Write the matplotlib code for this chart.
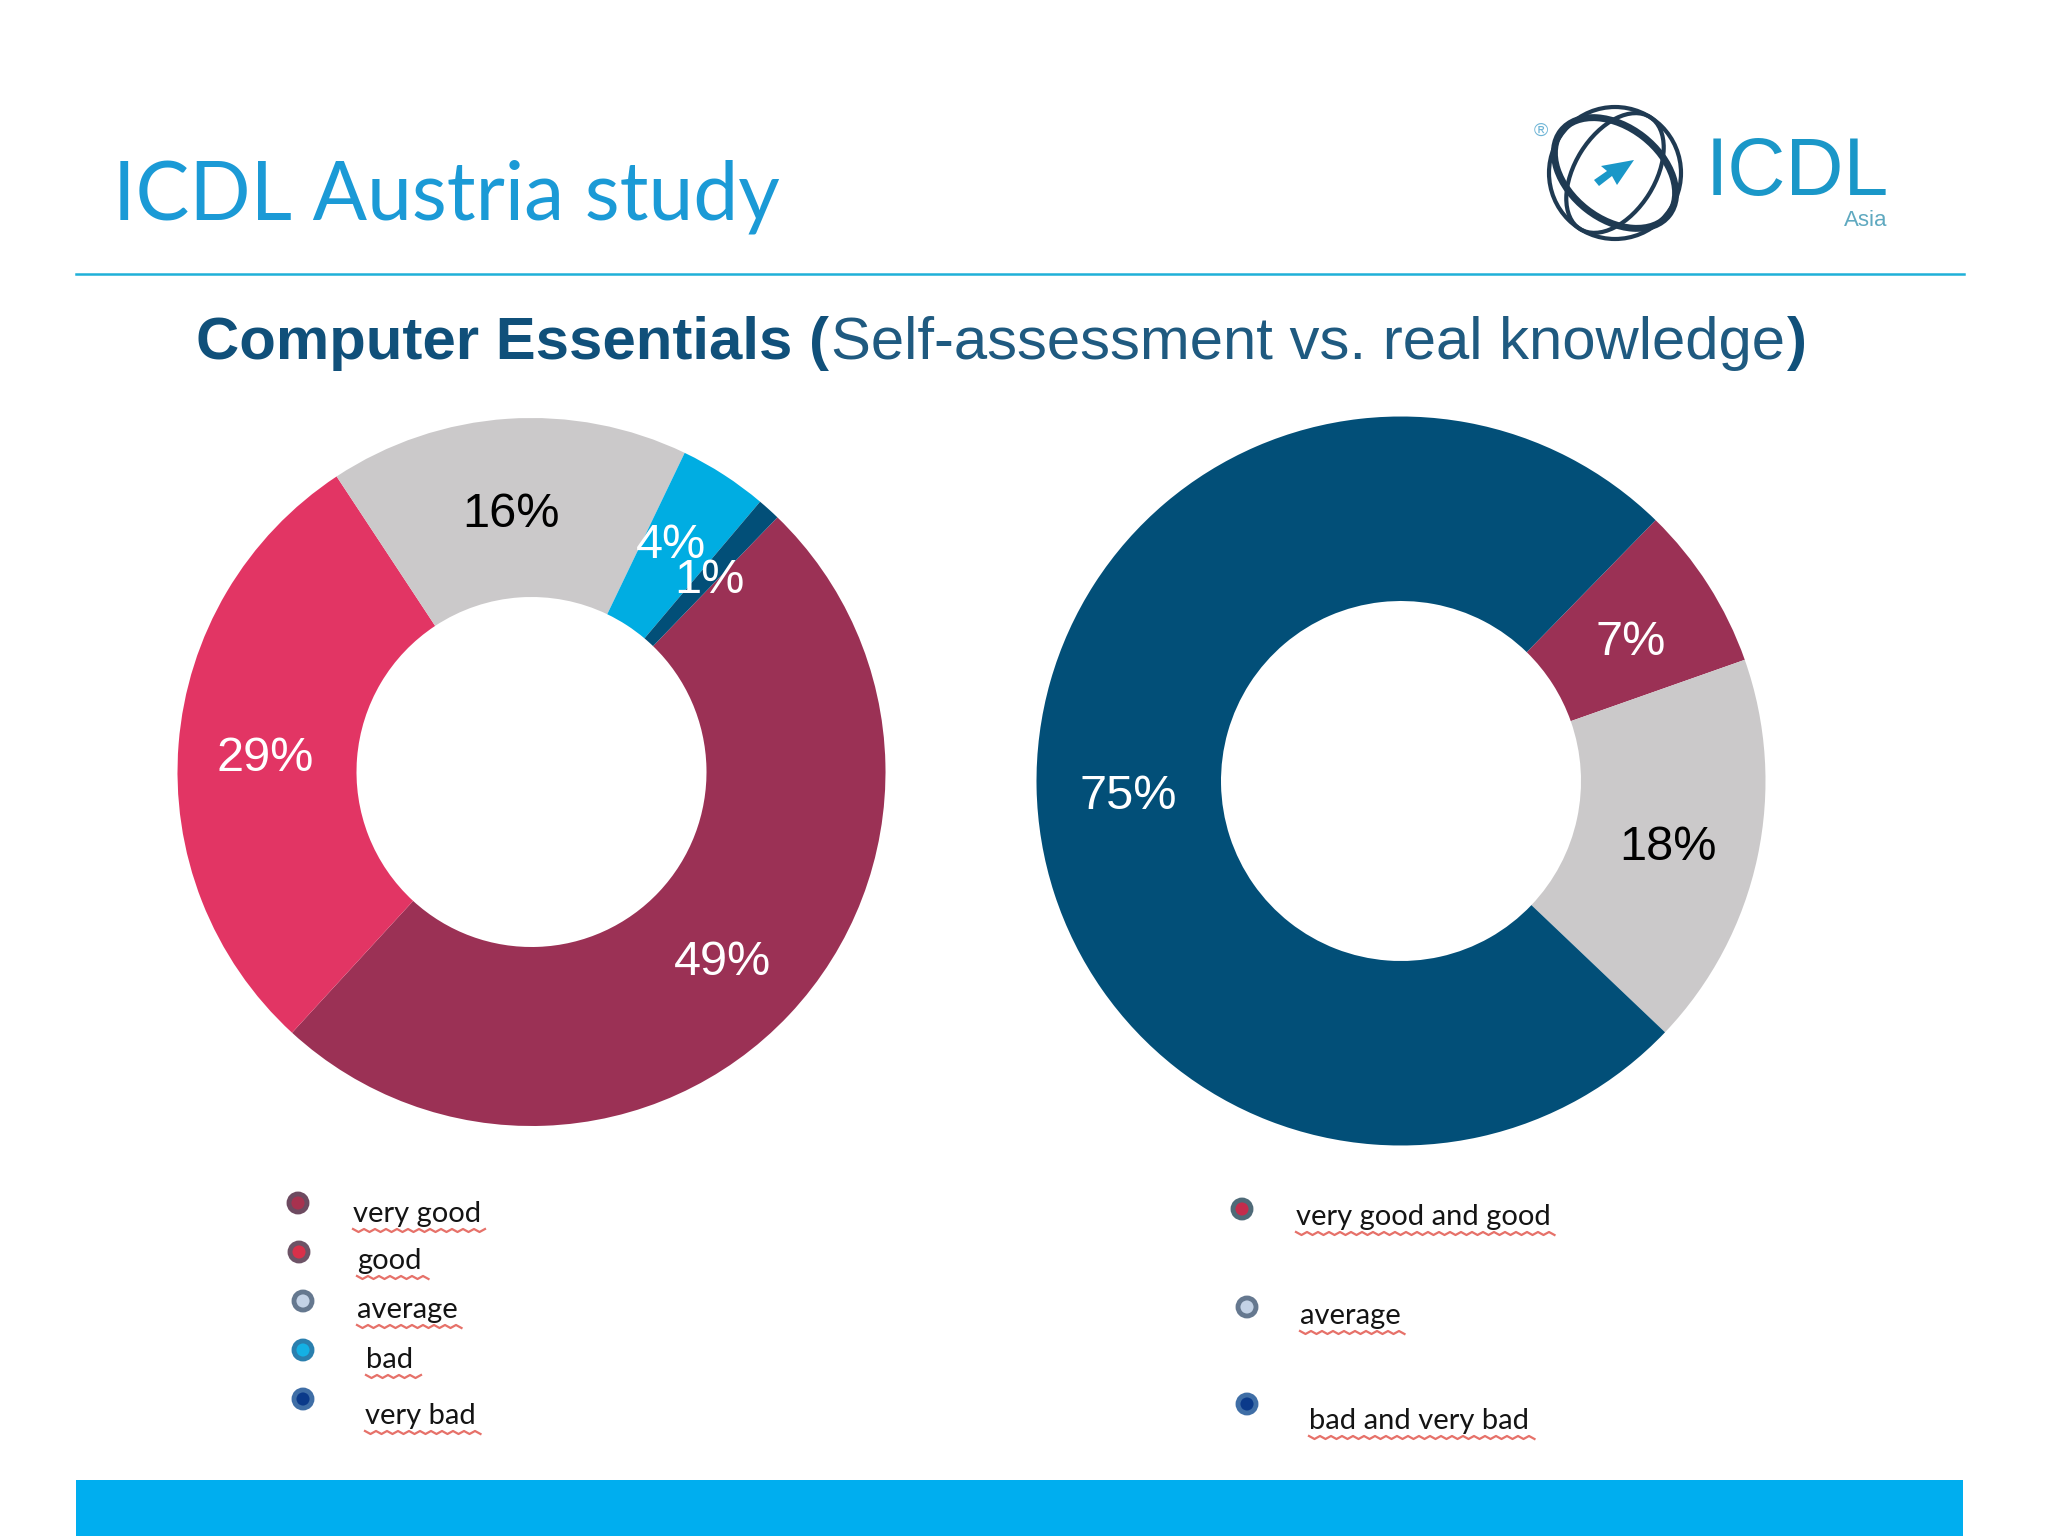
import numpy as np
import matplotlib
matplotlib.use('Agg')
import matplotlib.pyplot as plt
from matplotlib.patches import Circle, Ellipse, Polygon, Rectangle

W, H = 2048, 1536

# left donut, self-assessment
left_labels = ['very good', 'good', 'average', 'bad', 'very bad']
left_values = [49.6, 28.9, 16.4, 4.05, 1.05]
left_pct = ['49%', '29%', '16%', '4%', '1%']
left_colors = ['#9b3155', '#e23564', '#cbc9ca', '#00ade2', '#024f78']
left_text = ['white', 'white', 'black', 'white', 'white']

# right donut, real knowledge
right_labels = ['very good and good', 'average', 'bad and very bad']
right_values = [7.3, 17.5, 75.2]
right_pct = ['7%', '18%', '75%']
right_colors = ['#9b3155', '#cbc9ca', '#024f78']
right_text = ['white', 'black', 'white']

# legend dots: face, rim
left_dots = [('#a8324f', '#6d4a60'), ('#d9304a', '#6d5366'), ('#c3d2e6', '#65788f'),
             ('#14b0e4', '#2a7fae'), ('#0b3a8a', '#3f6ea6')]
right_dots = [('#c42c4c', '#4f6a78'), ('#c3d2e6', '#65788f'), ('#0b3a8a', '#3f6ea6')]

fig = plt.figure(figsize=(W / 100, H / 100), dpi=100, facecolor='white')
page = fig.add_axes([0, 0, 1, 1])
page.set_xlim(0, W)
page.set_ylim(H, 0)
page.axis('off')


def donut(cx, cy, r_out, r_in, values, pct_text, colors, text_colors, start, nudges):
    ax = fig.add_axes([(cx - r_out) / W, 1 - (cy + r_out) / H, 2 * r_out / W, 2 * r_out / H])
    wedges, _, pct = ax.pie(values, colors=colors, startangle=start, counterclock=False,
                            radius=1, autopct='%d', pctdistance=0.75,
                            wedgeprops={'width': 1 - r_in / r_out})
    for t, s, c, (dx, dy) in zip(pct, pct_text, text_colors, nudges):
        t.set_text(s)
        t.set_color(c)
        t.set_fontsize(35)
        t.set_fontfamily('Liberation Sans')
        px, py = t.get_position()
        t.set_position((px + dx / r_out, py - dy / r_out))
    ax.set_xlim(-1, 1)
    ax.set_ylim(-1, 1)
    return ax


donut(531.5, 772, 354, 175, left_values, left_pct, left_colors, left_text, 46,
      [(-2, 8), (-2, 8), (-3, 7), (-5, -4), (0, 5)])
donut(1401, 781, 364.5, 180, right_values, right_pct, right_colors, right_text, 45.7,
      [(-1, 9), (0, 9), (1, 10)])

# title, rule and footer band
page.text(113, 220, 'ICDL Austria study', fontsize=58, family='Lato', color='#1b9ad6')
page.plot([76, 1964], [274, 274], color='#1fb0d8', lw=1.8)
page.add_patch(Rectangle((76, 1480), 1887, 56, color='#00aeef', lw=0))

# subtitle, mixed weights
renderer = fig.canvas.get_renderer()
x = 196
parts = [('Computer Essentials (', 'bold', '#10507a'),
         ('Self-assessment vs. real knowledge', 'normal', '#1f5a80'),
         (')', 'bold', '#10507a')]
for s, weight, col in parts:
    t = page.text(x, 359, s, fontsize=43.1, family='Liberation Sans', weight=weight, color=col)
    x = t.get_window_extent(renderer).x1 + 2


def squiggle(t):
    box = t.get_window_extent(renderer)
    xs = np.arange(box.x0, box.x1 + 8, 5.5)
    ys = H - box.y0 + 2 + 3 * (np.arange(len(xs)) % 2)
    page.plot(xs, ys, color='#e2584f', lw=1.6, alpha=0.85)


def legend(labels, dots, dot_xy, text_xy):
    for name, (face, rim), (dx, dy), (tx, ty) in zip(labels, dots, dot_xy, text_xy):
        page.add_patch(Circle((dx, dy), 9, facecolor=face, edgecolor=rim, lw=3.5))
        t = page.text(tx, ty, name, fontsize=21, family='Lato', color='#141414')
        squiggle(t)


legend(left_labels, left_dots,
       [(298, 1203), (299, 1252), (303, 1301), (303, 1350), (303, 1399)],
       [(353, 1222), (357, 1269), (357, 1318), (366, 1368), (365, 1424)])
legend(right_labels, right_dots,
       [(1242, 1209), (1247, 1307), (1247, 1404)],
       [(1296, 1225), (1300, 1324), (1309, 1429)])

# logo
dark = '#1f3a52'
page.add_patch(Circle((1615, 173), 66, fill=False, ec=dark, lw=3))
page.add_patch(Ellipse((1615, 173), 136, 92, angle=38, fill=False, ec=dark, lw=5))
page.add_patch(Ellipse((1615, 173), 132, 80, angle=-58, fill=False, ec=dark, lw=3))
page.add_patch(Polygon([(1634, 160), (1617, 185), (1612, 176), (1599, 186), (1594, 180),
                        (1607, 171), (1601, 166)], color='#1a97c8', lw=0))
page.text(1541, 131, '®', fontsize=14, color='#6fb5d6', family='Liberation Sans',
          ha='center', va='center')
page.text(1706, 195, 'ICDL', fontsize=58, family='Liberation Sans', color='#1a97c8')
page.text(1887, 226, 'Asia', fontsize=16, family='Liberation Sans', color='#5fa9c0', ha='right')

fig.savefig('out.png', dpi=100)
